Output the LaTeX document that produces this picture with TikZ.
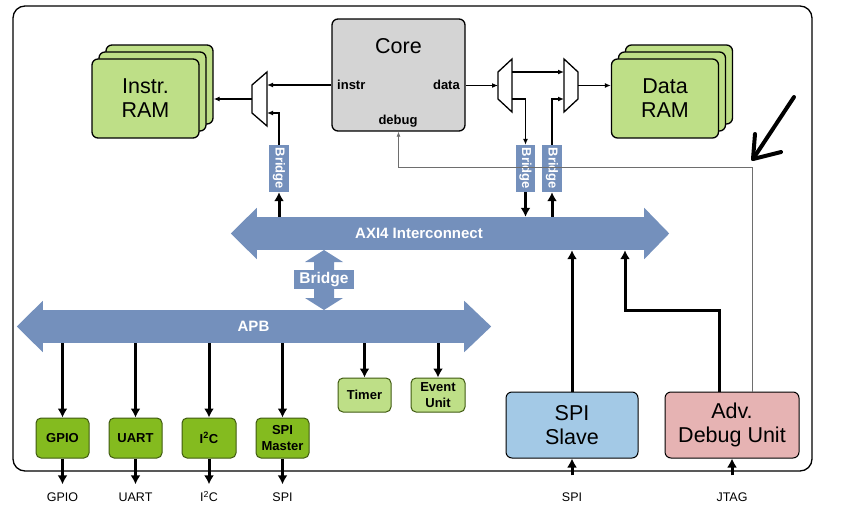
\documentclass[tikz,border=0pt]{standalone}
\usepackage{fontspec}
\setmainfont{Liberation Sans}
\usepackage{graphicx}
\usetikzlibrary{arrows.meta}
\definecolor{coregray}{HTML}{D4D4D4}
\definecolor{ramgreen}{HTML}{BEDF87}
\definecolor{busblue}{HTML}{7490BC}
\definecolor{perigreen}{HTML}{84BB1F}
\definecolor{periedge}{HTML}{3F5A10}
\definecolor{slaveblue}{HTML}{A3C9E6}
\definecolor{debugred}{HTML}{E6B3B3}
\definecolor{wiregray}{HTML}{6E6E6E}
\begin{document}
\begin{tikzpicture}[x=1pt,y=-1pt,
  box/.style={draw, rounded corners=6pt, line width=1.3pt, inner sep=0pt, align=center},
  ram/.style={box, fill=ramgreen, minimum width=107pt, minimum height=79pt},
  bigfont/.style={font=\fontsize{21.5}{24}\selectfont},
  peri/.style={box, draw=periedge, fill=perigreen, rounded corners=5pt, line width=1pt, font=\bfseries\fontsize{13}{16}\selectfont},
  smallperi/.style={peri, fill=ramgreen, minimum width=54pt, minimum height=34pt},
  port/.style={inner sep=0pt, font=\bfseries\fontsize{13}{15}\selectfont},
  bridge/.style={fill=busblue, text=white, inner sep=0pt, font=\bfseries\fontsize{13}{15}\selectfont},
  bus/.style={fill=busblue, inner sep=0pt, text=white, font=\bfseries\fontsize{15}{17}\selectfont},
  mux/.style={draw, fill=white, line width=1.3pt},
  wire/.style={line width=1.3pt, -{Latex[length=6pt,width=5pt]}},
  busarrow/.style={line width=3pt, -{Latex[length=9pt,width=10pt]}},
  pin/.style={inner sep=0pt, text height=9pt, text depth=0pt, font=\fontsize{12.5}{14}\selectfont}]
\useasboundingbox (0,0) rectangle (859,514);
% chip outline
\draw[line width=1.3pt, rounded corners=12pt] (13,6) rectangle (812,471);
% core
\node[box, fill=coregray, minimum width=133pt, minimum height=112pt] (core) at (398.5,75) {};
\node[bigfont] (corelbl) at (398.5,46) {Core};
\node[port, anchor=west] (cinstr) at (337,85) {instr};
\node[port, anchor=east] (cdata) at (460,85) {data};
\node[port] (cdebug) at (398,121) {debug};
% memories
\node[ram] (iramc) at (159.5,84.5) {};
\node[ram] (iramb) at (152.5,91.5) {};
\node[ram, bigfont] (irama) at (145.5,98.5) {Instr.\\RAM};
\node[ram] (dramc) at (679,84.5) {};
\node[ram] (dramb) at (672,91.5) {};
\node[ram, bigfont] (drama) at (665,98.5) {Data\\RAM};
% muxes
\draw[mux] (252,85) -- (267,72) -- (267,126) -- (252,113) -- cycle;
\coordinate (imuxa) at (267,85);
\coordinate (imuxb) at (267,113);
\coordinate (imuxo) at (252,99);
\draw[mux] (498,72) -- (512,59) -- (512,112) -- (498,99) -- cycle;
\coordinate (dmuxi) at (498,85.5);
\coordinate (dmuxa) at (512,72);
\coordinate (dmuxb) at (512,99);
\draw[mux] (564,59) -- (578,72) -- (578,99) -- (564,112) -- cycle;
\coordinate (amuxa) at (564,72);
\coordinate (amuxb) at (564,99);
\coordinate (amuxo) at (578,85.5);
% bridges
\node[bridge, minimum width=20pt, minimum height=47pt] (ibr) at (279,168.5) {\rotatebox{-90}{Bridge}};
\node[bridge, minimum width=19pt, minimum height=47pt] (dbra) at (525.5,168.5) {\rotatebox{-90}{Bridge}};
\node[bridge, minimum width=20pt, minimum height=47pt] (dbrb) at (552,168.5) {\rotatebox{-90}{Bridge}};
% buses
\node[bus, minimum width=387pt, minimum height=33pt] (axi) at (450.5,233.5) {};
\fill[busblue] ([yshift=9pt]axi.north west) -- ([xshift=-26pt]axi.west) -- ([yshift=-9pt]axi.south west) -- cycle;
\fill[busblue] ([yshift=9pt]axi.north east) -- ([xshift=25pt]axi.east) -- ([yshift=-9pt]axi.south east) -- cycle;
\node[bus] (axilbl) at (419,233.5) {AXI4 Interconnect};
\node[bus, minimum width=421pt, minimum height=33pt] (apb) at (253.5,326.5) {APB};
\fill[busblue] ([yshift=9pt]apb.north west) -- ([xshift=-26pt]apb.west) -- ([yshift=-9pt]apb.south west) -- cycle;
\fill[busblue] ([yshift=9pt]apb.north east) -- ([xshift=27pt]apb.east) -- ([yshift=-9pt]apb.south east) -- cycle;
\fill[busblue] (324,250) -- (343,262) -- (334,262) -- (334,298) -- (343,298) -- (324,310)
  -- (305,298) -- (314,298) -- (314,262) -- (305,262) -- cycle;
\node[bridge, minimum width=60pt, minimum height=19pt, font=\bfseries\fontsize{15.5}{17}\selectfont] (apbbr) at (324,279.5) {Bridge};
% peripherals
\node[peri, minimum width=53pt, minimum height=40pt] (gpio) at (62.5,438) {GPIO};
\node[peri, minimum width=53pt, minimum height=40pt] (uart) at (135.5,438) {UART};
\node[peri, minimum width=54pt, minimum height=40pt] (i2c) at (209,438) {I\textsuperscript{2}C};
\node[peri, minimum width=53pt, minimum height=40pt] (spim) at (282.5,438) {SPI\\Master};
\node[smallperi, minimum width=53pt] (timer) at (364.5,395) {Timer};
\node[smallperi] (evu) at (438,395) {Event\\Unit};
\node[box, line width=1pt, fill=slaveblue, bigfont, minimum width=132pt, minimum height=66pt] (spis) at (572,425) {SPI\\Slave};
\node[box, line width=1pt, fill=debugred, bigfont, minimum width=134pt, minimum height=66pt] (adu) at (732,425) {Adv.\\Debug Unit};
% pins
\node[pin] (gpiop) at (62.5,497) {GPIO};
\node[pin] (uartp) at (135.5,497) {UART};
\node[pin] (i2cp) at (209,497) {I\textsuperscript{2}C};
\node[pin] (spimp) at (282.5,497) {SPI};
\node[pin] (spisp) at (572,497) {SPI};
\node[pin] (jtagp) at (732,497) {JTAG};
% core side wires
\draw[wire] (core.west |- imuxa) -- (imuxa);
\draw[wire] (imuxo) -- (imuxo -| iramc.east);
\draw[wire] (ibr.north) |- (imuxb);
\draw[wire] (core.east |- dmuxi) -- (dmuxi);
\draw[wire] (dmuxa) -- (amuxa);
\draw[wire] (dmuxb) -| (dbra.north);
\draw[wire] (dbrb.north) |- (amuxb);
\draw[wire] (amuxo) -- (amuxo -| drama.west);
\draw[line width=0.8pt, draw=wiregray, -{Latex[length=5pt,width=4pt]}] ([xshift=20pt]adu.north) -- ++(0,-224) -| (core.south);
% bus wires
\draw[busarrow] (ibr.south |- axi.north) -- (ibr.south);
\draw[busarrow] (dbra.south) -- (dbra.south |- axi.north);
\draw[busarrow] (dbrb.south |- axi.north) -- (dbrb.south);
\draw[busarrow] (spis.north) -- (spis.north |- axi.south);
\draw[busarrow] ([xshift=-13pt]adu.north) -- ++(0,-81) -| ([xshift=174.5pt]axi.south);
\draw[busarrow] (gpio.north |- apb.south) -- (gpio.north);
\draw[busarrow] (uart.north |- apb.south) -- (uart.north);
\draw[busarrow] (i2c.north |- apb.south) -- (i2c.north);
\draw[busarrow] (spim.north |- apb.south) -- (spim.north);
\draw[busarrow] (timer.north |- apb.south) -- (timer.north);
\draw[busarrow] (evu.north |- apb.south) -- (evu.north);
% io wires
\draw[busarrow] (gpio.south) -- ([yshift=8pt]gpiop.north);
\draw[busarrow] (uart.south) -- ([yshift=8pt]uartp.north);
\draw[busarrow] (i2c.south) -- ([yshift=8pt]i2cp.north);
\draw[busarrow] (spim.south) -- ([yshift=8pt]spimp.north);
\draw[busarrow] ([yshift=17pt]spisp.north) -- (spis.south);
\draw[busarrow] ([yshift=17pt]jtagp.north) -- (adu.south);
% hand drawn arrow
\draw[line width=4pt, line cap=round, line join=round] (794,97) -- (753,159);
\draw[line width=4pt, line cap=round, line join=round] (755,134) -- (753,159) -- (781,152);
\end{tikzpicture}
\end{document}
